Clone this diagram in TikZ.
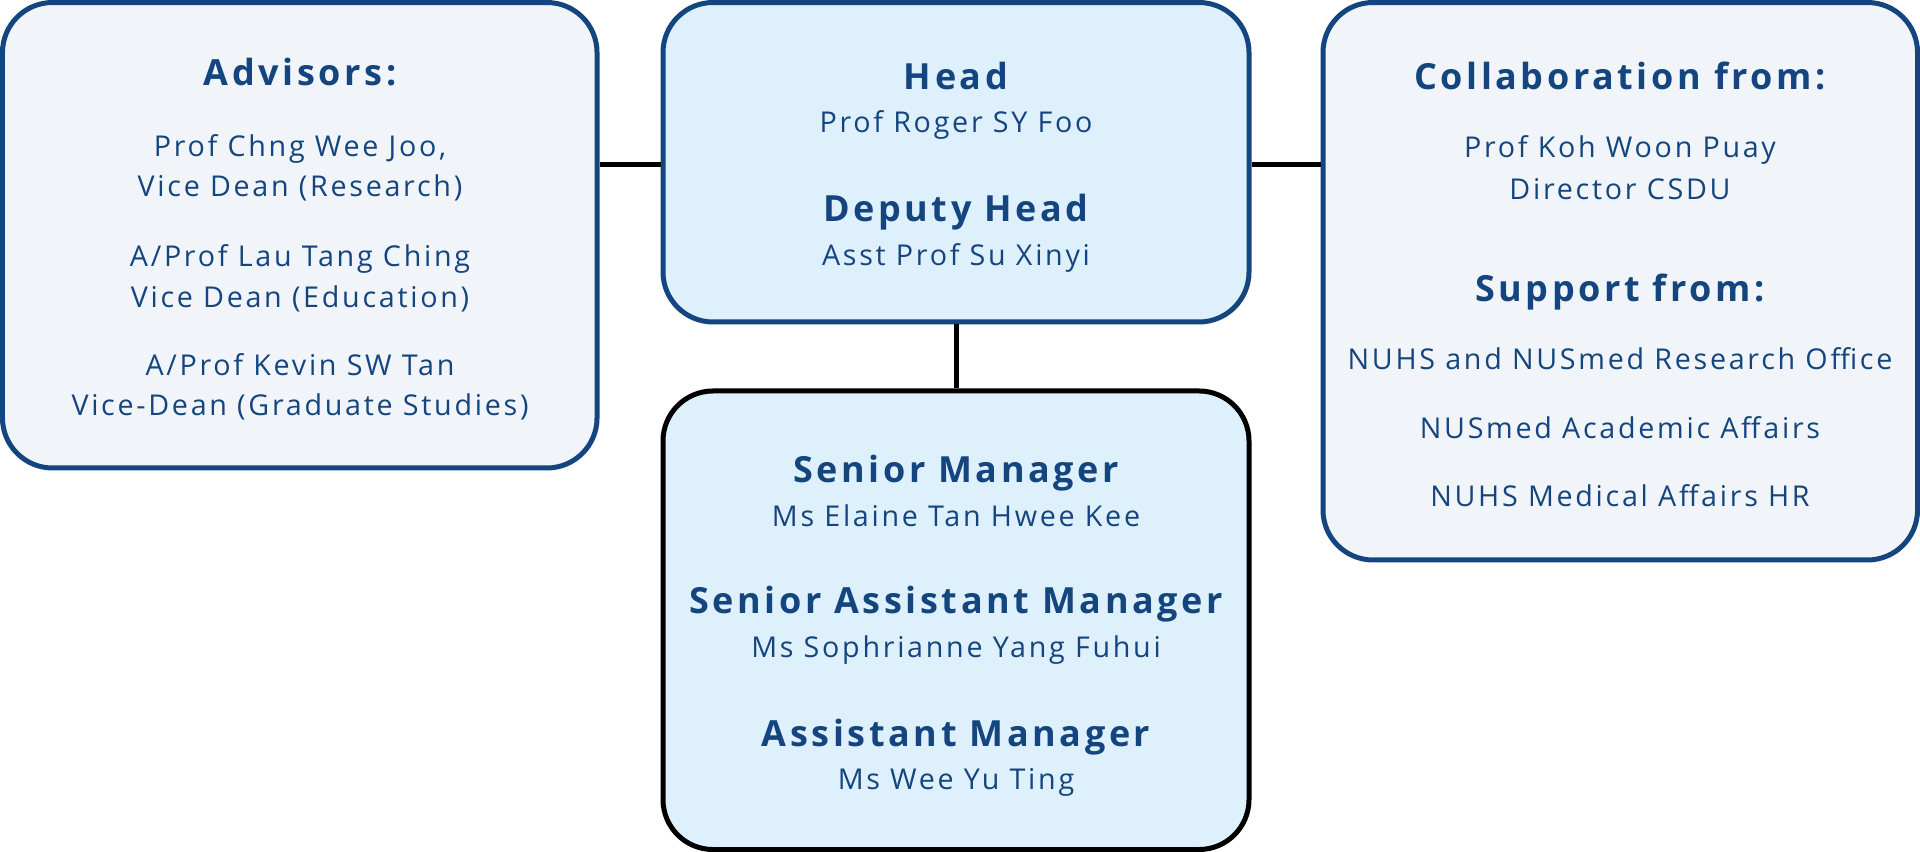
\documentclass[tikz,border=0pt]{standalone}
\usepackage{fontspec}
\setmainfont{Open Sans}
\newfontfamily\ttlfont[LetterSpace=10]{Open Sans}
\newfontfamily\nmfont[LetterSpace=9.5]{Open Sans}
\definecolor{navy}{HTML}{14457F}
\definecolor{palegray}{HTML}{F1F5F9}
\definecolor{paleblue}{HTML}{DFF0FD}
\tikzset{
  box/.style={rounded corners=37.5pt, line width=3.75pt, inner sep=0pt, rectangle},
  graybox/.style={box, draw=navy, fill=palegray},
  bluebox/.style={box, draw=navy, fill=paleblue},
  blackbox/.style={box, draw=black, fill=paleblue},
  ttl/.style={anchor=base, inner sep=0pt, text=navy, font=\ttlfont\bfseries\fontsize{27pt}{32pt}\selectfont},
  nm/.style={anchor=base, inner sep=0pt, text=navy, font=\nmfont\fontsize{21.5pt}{25pt}\selectfont},
  conn/.style={draw=black, line width=3.75pt}
}
\begin{document}
\begin{tikzpicture}[x=0.75pt,y=-0.75pt]
\useasboundingbox (0,0) rectangle (1920,852);
% boxes
\node[graybox, minimum width=445.9pt, minimum height=349.1pt] (adv) at (299.75,235.25) {};
\node[bluebox, minimum width=439.5pt, minimum height=239.6pt] (head) at (956,162.25) {};
\node[graybox, minimum width=445.9pt, minimum height=418.1pt] (collab) at (1620.25,281.25) {};
\node[blackbox, minimum width=439.5pt, minimum height=343.9pt] (staff) at (956,620.25) {};
% connectors
\coordinate (jl) at ([yshift=-1.5pt]head.west);
\coordinate (jr) at ([yshift=-1.5pt]head.east);
\draw[conn] (adv.east |- jl) -- (jl);
\draw[conn] (jr) -- (jr -| collab.west);
\draw[conn] (head.south) -- (staff.north);
% advisors
\node[ttl] (a0) at (300,86) {Advisors:};
\node[nm] (a1) at (300,157) {Prof Chng Wee Joo,};
\node[nm] (a2) at (300,197) {Vice Dean (Research)};
\node[nm] (a3) at (300,267) {A/Prof Lau Tang Ching};
\node[nm] (a4) at (300,307) {Vice Dean (Education)};
\node[nm] (a5) at (300,375) {A/Prof Kevin SW Tan};
\node[nm] (a6) at (300,415) {Vice-Dean (Graduate Studies)};
% head
\node[ttl] (h0) at (956,90) {Head};
\node[nm] (h1) at (956,133) {Prof Roger SY Foo};
\node[ttl] (h2) at (956,222) {Deputy Head};
\node[nm] (h3) at (956,266) {Asst Prof Su Xinyi};
% collaboration
\node[ttl] (c0) at (1620,90) {Collaboration from:};
\node[nm] (c1) at (1620,158) {Prof Koh Woon Puay};
\node[nm] (c2) at (1620,200) {Director CSDU};
\node[ttl] (c3) at (1620,301) {Support from:};
\node[nm] (c4) at (1620,369) {NUHS and NUSmed Research Office};
\node[nm] (c5) at (1620,438) {NUSmed Academic Affairs};
\node[nm] (c6) at (1620,506) {NUHS Medical Affairs HR};
% staff
\node[ttl] (s0) at (956,482) {Senior Manager};
\node[nm] (s1) at (956,526) {Ms Elaine Tan Hwee Kee};
\node[ttl] (s2) at (956,613) {Senior Assistant Manager};
\node[nm] (s3) at (956,657) {Ms Sophrianne Yang Fuhui};
\node[ttl] (s4) at (956,746) {Assistant Manager};
\node[nm] (s5) at (956,789) {Ms Wee Yu Ting};
\end{tikzpicture}
\end{document}
